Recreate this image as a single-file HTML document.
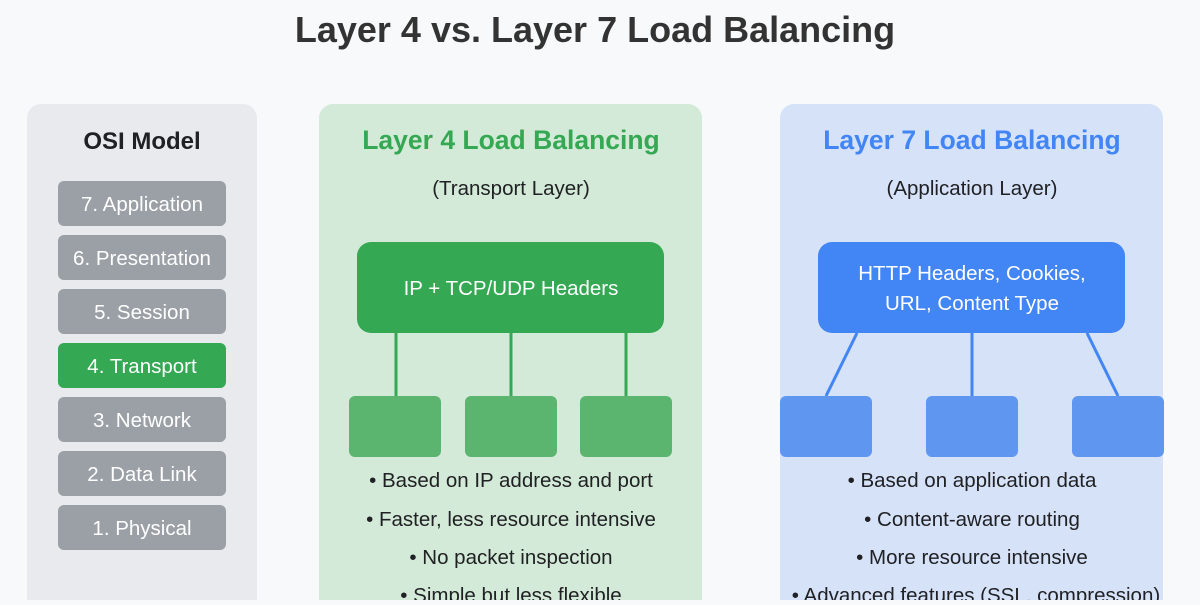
<!DOCTYPE html>
<html><head><style>
body{margin:0;width:1200px;height:600px;overflow:hidden;background:#f8f9fa;font-family:"Liberation Sans",Arial,sans-serif}
</style></head><body>
<svg width="1200" height="600" xmlns="http://www.w3.org/2000/svg" font-family="Liberation Sans, Arial, sans-serif">
<rect width="1200" height="600" fill="#f8f9fa"/>
<text x="595" y="42" text-anchor="middle" font-size="36" font-weight="bold" fill="#333">Layer 4 vs. Layer 7 Load Balancing</text>
<rect x="27" y="104" width="230" height="520" rx="14" fill="#e8eaed"/>
<text x="142" y="149" text-anchor="middle" font-size="24" font-weight="bold" fill="#202124">OSI Model</text>
<g font-size="20.5" fill="#fff" text-anchor="middle">
<rect x="58" y="181" width="168" height="45" rx="6" fill="#9aa0a6"/><text x="142" y="211">7. Application</text>
<rect x="58" y="235" width="168" height="45" rx="6" fill="#9aa0a6"/><text x="142" y="265">6. Presentation</text>
<rect x="58" y="289" width="168" height="45" rx="6" fill="#9aa0a6"/><text x="142" y="319">5. Session</text>
<rect x="58" y="343" width="168" height="45" rx="6" fill="#34a853"/><text x="142" y="373">4. Transport</text>
<rect x="58" y="397" width="168" height="45" rx="6" fill="#9aa0a6"/><text x="142" y="427">3. Network</text>
<rect x="58" y="451" width="168" height="45" rx="6" fill="#9aa0a6"/><text x="142" y="481">2. Data Link</text>
<rect x="58" y="505" width="168" height="45" rx="6" fill="#9aa0a6"/><text x="142" y="535">1. Physical</text>
</g>
<rect x="319" y="104" width="383" height="520" rx="14" fill="#d4ead8"/>
<text x="511" y="149" text-anchor="middle" font-size="26.5" font-weight="bold" fill="#34a853">Layer 4 Load Balancing</text>
<text x="511" y="195" text-anchor="middle" font-size="20.5" fill="#202124">(Transport Layer)</text>
<rect x="357" y="242" width="307" height="91" rx="14" fill="#34a853"/>
<text x="511" y="295" text-anchor="middle" font-size="20.5" fill="#fff">IP + TCP/UDP Headers</text>
<g stroke="#34a853" stroke-width="3"><line x1="396" y1="333" x2="396" y2="396"/><line x1="511" y1="333" x2="511" y2="396"/><line x1="626" y1="333" x2="626" y2="396"/></g>
<g fill="#5cb56e"><rect x="349" y="396" width="92" height="61" rx="6"/><rect x="465" y="396" width="92" height="61" rx="6"/><rect x="580" y="396" width="92" height="61" rx="6"/></g>
<g font-size="20.5" fill="#202124" text-anchor="middle">
<text x="511" y="487">• Based on IP address and port</text>
<text x="511" y="526">• Faster, less resource intensive</text>
<text x="511" y="564">• No packet inspection</text>
<text x="511" y="602">• Simple but less flexible</text>
</g>
<rect x="780" y="104" width="383" height="520" rx="14" fill="#d6e2f8"/>
<text x="972" y="149" text-anchor="middle" font-size="26.5" font-weight="bold" fill="#4285f4">Layer 7 Load Balancing</text>
<text x="972" y="195" text-anchor="middle" font-size="20.5" fill="#202124">(Application Layer)</text>
<rect x="818" y="242" width="307" height="91" rx="14" fill="#4285f4"/>
<text x="972" y="280" text-anchor="middle" font-size="20.5" fill="#fff">HTTP Headers, Cookies,</text>
<text x="972" y="310" text-anchor="middle" font-size="20.5" fill="#fff">URL, Content Type</text>
<g stroke="#4285f4" stroke-width="3"><line x1="857" y1="333" x2="826" y2="396"/><line x1="972" y1="333" x2="972" y2="396"/><line x1="1087" y1="333" x2="1118" y2="396"/></g>
<g fill="#5f96f0"><rect x="780" y="396" width="92" height="61" rx="6"/><rect x="926" y="396" width="92" height="61" rx="6"/><rect x="1072" y="396" width="92" height="61" rx="6"/></g>
<g font-size="20.5" fill="#202124" text-anchor="middle">
<text x="972" y="487">• Based on application data</text>
<text x="972" y="526">• Content-aware routing</text>
<text x="972" y="564">• More resource intensive</text>
<text x="976" y="602">• Advanced features (SSL, compression)</text>
</g>
</svg>
</body></html>
